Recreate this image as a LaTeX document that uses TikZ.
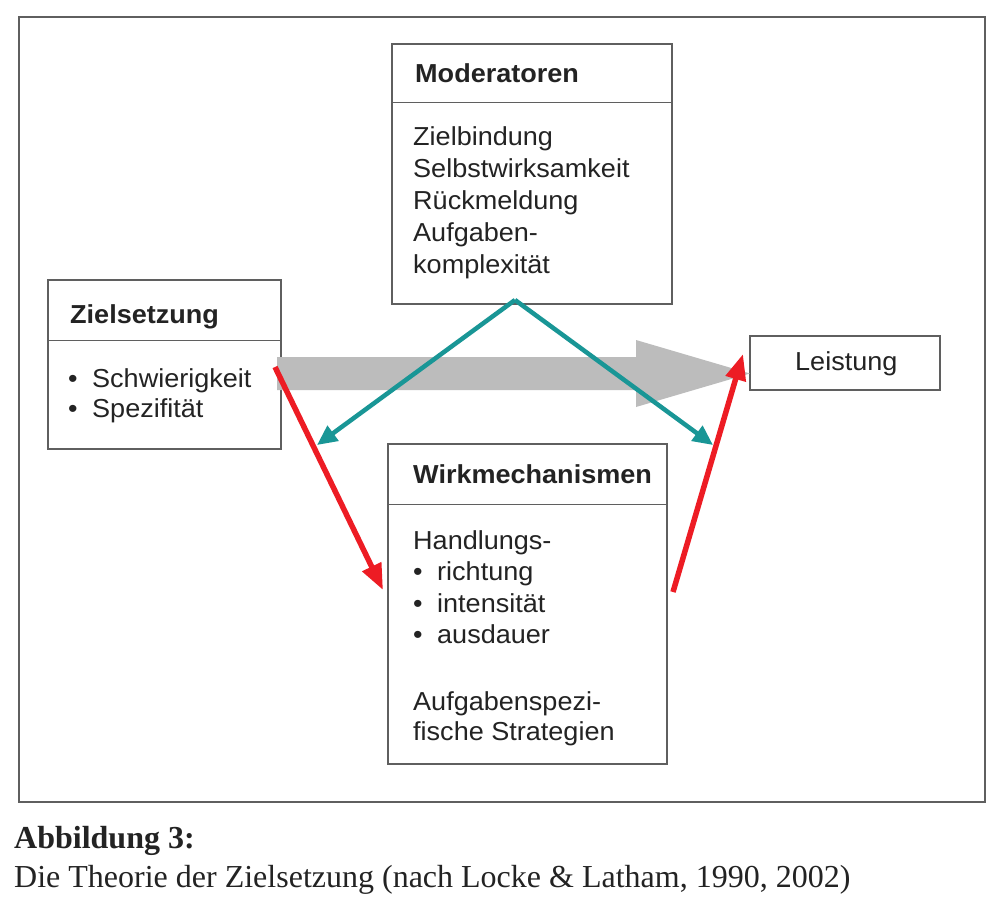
\documentclass[tikz,border=0pt]{standalone}
\usepackage{fontspec}
\setmainfont{Liberation Sans}[FakeStretch=1.04]
\newfontfamily\capfont{Liberation Serif}
\usetikzlibrary{arrows.meta}
\definecolor{tealarr}{RGB}{25,150,150}
\definecolor{redarr}{RGB}{237,28,36}
\definecolor{boxgray}{RGB}{95,95,95}
\definecolor{arrgray}{RGB}{188,188,188}
\definecolor{txtcol}{RGB}{35,35,35}
\tikzset{
  box/.style={draw=boxgray,line width=1.2pt,fill=white,inner sep=0pt},
  txt/.style={anchor=base west,inner sep=0pt,text=txtcol,font=\fontsize{26}{30}\selectfont},
  hd/.style={anchor=base west,inner sep=0pt,text=txtcol,font=\fontsize{26}{30}\selectfont\bfseries},
  tealline/.style={draw=tealarr,line width=4.5pt,-{Triangle[length=20pt,width=18pt]}},
  redline/.style={draw=redarr,line width=5.5pt,-{Triangle[length=26pt,width=20pt]}},
  captxt/.style={anchor=base west,inner sep=0pt,text=txtcol,font=\fontsize{32}{37}\selectfont\capfont},
}
\newcommand{\bul}{\makebox[24pt][l]{•}}
\begin{document}
\begin{tikzpicture}[x=1pt,y=-1pt]
\useasboundingbox (0,0) rectangle (1006,908);
\fill[white] (0,0) rectangle (1006,908);
% outer frame
\draw[draw=boxgray,line width=1.4pt] (19,17) rectangle (985,802);

% boxes
\node[box,minimum width=280pt,minimum height=260pt] (mod) at (532,174) {};
\draw[draw=boxgray,line width=1.2pt] ([yshift=-59pt]mod.north west) -- ([yshift=-59pt]mod.north east);
\node[box,minimum width=233pt,minimum height=169pt] (ziel) at (164.5,364.5) {};
\draw[draw=boxgray,line width=1.2pt] ([yshift=-61pt]ziel.north west) -- ([yshift=-61pt]ziel.north east);
\node[box,minimum width=190pt,minimum height=54pt] (leist) at (845,363) {};
\node[box,minimum width=279pt,minimum height=320pt] (wirk) at (527.5,604) {};
\draw[draw=boxgray,line width=1.2pt] ([yshift=-61pt]wirk.north west) -- ([yshift=-61pt]wirk.north east);

% texts: Moderatoren
\node[hd] (modh) at (415,82) {Moderatoren};
\node[txt] (m1) at (413,145) {Zielbindung};
\node[txt] (m2) at (413,177) {Selbstwirksamkeit};
\node[txt] (m3) at (413,209) {Rückmeldung};
\node[txt] (m4) at (413,241) {Aufgaben-};
\node[txt] (m5) at (413,273) {komplexität};
% Zielsetzung
\node[hd] (zielh) at (70,323) {Zielsetzung};
\node[txt] (z1) at (68,387) {\bul Schwierigkeit};
\node[txt] (z2) at (68,417) {\bul Spezifität};
% Leistung
\node[txt] (leisth) at (795,370) {Leistung};
% Wirkmechanismen
\node[hd] (wirkh) at (413,483) {Wirkmechanismen};
\node[txt] (w1) at (413,549) {Handlungs-};
\node[txt] (w2) at (413,580) {\bul richtung};
\node[txt] (w3) at (413,612) {\bul intensität};
\node[txt] (w4) at (413,643) {\bul ausdauer};
\node[txt] (w5) at (413,710) {Aufgabenspezi-};
\node[txt] (w6) at (413,740) {fische Strategien};

% gray block arrow
\coordinate (ga) at (277,357);
\coordinate (gb) at (750,373.5);
\fill[arrgray] (ga) -- (636,357) -- (636,340) -- (gb) -- (636,407) -- (636,390) -- (277,390) -- cycle;

% teal arrows
\coordinate (apex) at (515,300);
\coordinate (tl) at (317,445);
\coordinate (tr) at (713,445);
\draw[tealline] (apex) -- (tl);
\draw[tealline] (apex) -- (tr);

% red arrows
\coordinate (r1s) at (275,367);
\coordinate (r1e) at (383,590);
\coordinate (r2s) at (673,592);
\coordinate (r2e) at (743,354);
\draw[redline] (r1s) -- (r1e);
\draw[redline] (r2s) -- (r2e);

% caption
\node[captxt,font=\fontsize{32}{37}\selectfont\capfont\bfseries] (cap1) at (14,848) {Abbildung 3:};
\node[captxt] (cap2) at (14,887) {Die Theorie der Zielsetzung (nach Locke \& Latham, 1990, 2002)};
\end{tikzpicture}
\end{document}
